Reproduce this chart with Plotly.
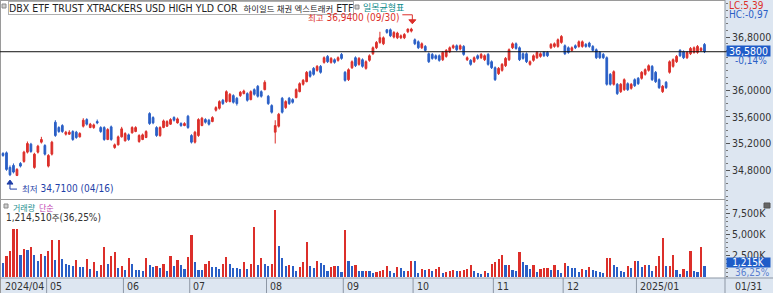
import plotly.graph_objects as go

W, H = 773, 293
FONT = "Liberation Sans Narrow, Arial Narrow, DejaVu Sans Condensed, Noto Sans CJK KR, sans-serif"

# ---------------- data ----------------
month_labels = ["2024/04", "05", "06", "07", "08", "09", "10", "11", "12", "2025/01"]
month_start_idx = [0, 13, 35, 54, 76, 98, 118, 141, 161, 182]
last_date_label = "01/31"
title_text = "DBX ETF TRUST XTRACKERS USD HIGH YLD COR"
title_kr = "하이일드 채권 엑스트래커"
indicator_label = "일목균형표"
max_date, min_date = "09/30", "04/16"
vol_pct_label = 36.25

opens = [35.05, 35.06, 34.84, 34.87, 34.72, 34.90, 34.93, 35.07, 35.19, 34.84,
         35.07, 35.22, 35.17, 34.86, 35.04, 35.52, 35.44, 35.47, 35.34, 35.34,
         35.38, 35.37, 35.30, 35.46, 35.56, 35.44, 35.44, 35.53, 35.44, 35.44,
         35.26, 35.45, 35.14, 35.18, 35.30, 35.24, 35.33, 35.36, 35.38, 35.23,
         35.26, 35.29, 35.65, 35.59, 35.44, 35.32, 35.44, 35.46, 35.49, 35.59,
         35.51, 35.50, 35.47, 35.61, 35.32, 35.22, 35.32, 35.47, 35.56, 35.55,
         35.53, 35.70, 35.73, 35.85, 35.83, 35.83, 35.92, 35.88, 35.92, 35.95,
         35.95, 35.86, 36.01, 36.06, 35.98, 36.01, 35.91, 35.77, 35.37, 35.46,
         35.88, 35.74, 35.88, 35.86, 35.89, 35.98, 36.09, 36.13, 36.28, 36.33,
         36.30, 36.36, 36.42, 36.51, 36.42, 36.46, 36.45, 36.54, 36.27, 36.16,
         36.34, 36.49, 36.39, 36.46, 36.33, 36.45, 36.55, 36.64, 36.72, 36.70,
         36.91, 36.91, 36.80, 36.79, 36.79, 36.79, 36.88, 36.89, 36.76, 36.73,
         36.64, 36.66, 36.55, 36.54, 36.52, 36.52, 36.46, 36.51, 36.58, 36.64,
         36.67, 36.62, 36.66, 36.46, 36.45, 36.43, 36.52, 36.49, 36.46, 36.54,
         36.43, 36.34, 36.25, 36.30, 36.37, 36.46, 36.64, 36.70, 36.64, 36.55,
         36.55, 36.39, 36.45, 36.49, 36.51, 36.57, 36.57, 36.64, 36.66, 36.66,
         36.72, 36.67, 36.64, 36.60, 36.67, 36.66, 36.66, 36.69, 36.71, 36.66,
         36.61, 36.57, 36.54, 36.49, 36.24, 36.09, 36.09, 35.98, 36.01, 36.10,
         36.03, 36.16, 36.18, 36.18, 36.24, 36.30, 36.36, 36.27, 36.16, 35.98,
         36.12, 36.27, 36.36, 36.43, 36.60, 36.58, 36.49, 36.55, 36.57, 36.57,
         36.60, 36.69]
highs = [35.07, 35.08, 34.87, 34.90, 34.83, 34.92, 35.09, 35.23, 35.21, 35.06,
         35.18, 35.30, 35.19, 35.04, 35.24, 35.55, 35.46, 35.49, 35.39, 35.40,
         35.40, 35.39, 35.37, 35.58, 35.58, 35.51, 35.50, 35.56, 35.46, 35.46,
         35.43, 35.47, 35.20, 35.32, 35.45, 35.37, 35.35, 35.46, 35.46, 35.34,
         35.35, 35.40, 35.67, 35.61, 35.46, 35.46, 35.56, 35.55, 35.58, 35.61,
         35.59, 35.52, 35.52, 35.63, 35.34, 35.39, 35.58, 35.60, 35.58, 35.57,
         35.61, 35.76, 35.85, 35.87, 36.00, 35.96, 35.94, 35.90, 35.99, 36.01,
         35.97, 36.00, 36.03, 36.08, 36.00, 36.15, 35.93, 35.79, 35.55, 35.66,
         35.90, 35.85, 35.90, 35.88, 36.03, 36.12, 36.17, 36.29, 36.30, 36.35,
         36.38, 36.38, 36.51, 36.53, 36.50, 36.48, 36.51, 36.56, 36.29, 36.33,
         36.45, 36.51, 36.50, 36.48, 36.45, 36.54, 36.66, 36.74, 36.88, 36.81,
         36.92, 36.93, 36.89, 36.88, 36.84, 36.86, 36.93, 36.94, 36.78, 36.75,
         36.72, 36.68, 36.57, 36.56, 36.54, 36.54, 36.59, 36.62, 36.66, 36.69,
         36.69, 36.69, 36.68, 36.51, 36.47, 36.51, 36.54, 36.56, 36.54, 36.56,
         36.45, 36.36, 36.35, 36.41, 36.50, 36.63, 36.72, 36.72, 36.66, 36.57,
         36.57, 36.45, 36.54, 36.59, 36.57, 36.59, 36.59, 36.71, 36.72, 36.78,
         36.83, 36.69, 36.66, 36.66, 36.69, 36.75, 36.75, 36.71, 36.73, 36.68,
         36.63, 36.59, 36.56, 36.51, 36.26, 36.30, 36.11, 36.11, 36.18, 36.12,
         36.11, 36.18, 36.20, 36.29, 36.33, 36.39, 36.38, 36.29, 36.18, 36.08,
         36.14, 36.45, 36.48, 36.53, 36.62, 36.60, 36.59, 36.65, 36.66, 36.68,
         36.65, 36.71]
lows = [35.00, 34.79, 34.71, 34.75, 34.71, 34.84, 34.91, 35.05, 35.06, 34.82,
        35.05, 35.20, 35.02, 34.84, 35.02, 35.30, 35.36, 35.36, 35.32, 35.33,
        35.24, 35.27, 35.29, 35.44, 35.47, 35.43, 35.42, 35.49, 35.36, 35.24,
        35.25, 35.24, 35.12, 35.17, 35.29, 35.23, 35.24, 35.35, 35.37, 35.21,
        35.25, 35.28, 35.48, 35.49, 35.30, 35.30, 35.43, 35.45, 35.48, 35.53,
        35.50, 35.45, 35.46, 35.42, 35.20, 35.20, 35.30, 35.46, 35.50, 35.47,
        35.52, 35.68, 35.71, 35.78, 35.81, 35.82, 35.80, 35.77, 35.90, 35.94,
        35.83, 35.85, 35.92, 35.89, 35.89, 36.00, 35.78, 35.65, 35.20, 35.44,
        35.65, 35.72, 35.78, 35.80, 35.88, 35.97, 36.07, 36.12, 36.19, 36.22,
        36.28, 36.25, 36.40, 36.41, 36.40, 36.40, 36.43, 36.46, 36.13, 36.14,
        36.32, 36.35, 36.37, 36.34, 36.31, 36.43, 36.53, 36.62, 36.70, 36.68,
        36.85, 36.80, 36.78, 36.77, 36.77, 36.77, 36.86, 36.87, 36.68, 36.62,
        36.62, 36.58, 36.41, 36.46, 36.46, 36.43, 36.44, 36.49, 36.56, 36.62,
        36.59, 36.60, 36.52, 36.44, 36.37, 36.41, 36.46, 36.47, 36.44, 36.37,
        36.32, 36.14, 36.23, 36.28, 36.35, 36.44, 36.62, 36.61, 36.44, 36.46,
        36.41, 36.37, 36.43, 36.47, 36.49, 36.50, 36.50, 36.62, 36.64, 36.64,
        36.70, 36.53, 36.55, 36.58, 36.62, 36.64, 36.64, 36.64, 36.64, 36.58,
        36.47, 36.47, 36.47, 36.07, 36.07, 36.07, 35.93, 35.96, 35.99, 35.99,
        36.01, 36.05, 36.08, 36.16, 36.22, 36.28, 36.14, 36.11, 36.02, 35.96,
        36.02, 36.25, 36.34, 36.41, 36.50, 36.47, 36.47, 36.53, 36.55, 36.55,
        36.58, 36.56]
closes = [35.02, 34.81, 34.73, 34.77, 34.81, 34.86, 35.07, 35.20, 35.08, 35.04,
          35.16, 35.26, 35.04, 35.02, 35.22, 35.32, 35.38, 35.38, 35.37, 35.37,
          35.26, 35.29, 35.35, 35.55, 35.49, 35.49, 35.48, 35.51, 35.38, 35.26,
          35.41, 35.26, 35.18, 35.30, 35.42, 35.35, 35.26, 35.44, 35.44, 35.32,
          35.33, 35.38, 35.50, 35.51, 35.32, 35.44, 35.54, 35.53, 35.56, 35.55,
          35.57, 35.47, 35.50, 35.44, 35.22, 35.37, 35.56, 35.58, 35.52, 35.49,
          35.59, 35.74, 35.83, 35.80, 35.98, 35.94, 35.82, 35.80, 35.97, 35.99,
          35.85, 35.98, 35.94, 35.91, 35.91, 36.12, 35.80, 35.67, 35.47, 35.64,
          35.67, 35.83, 35.80, 35.82, 36.01, 36.10, 36.15, 36.27, 36.21, 36.24,
          36.36, 36.27, 36.49, 36.43, 36.48, 36.42, 36.49, 36.48, 36.15, 36.31,
          36.43, 36.37, 36.48, 36.36, 36.43, 36.52, 36.64, 36.72, 36.79, 36.79,
          36.87, 36.82, 36.87, 36.86, 36.82, 36.84, 36.92, 36.92, 36.70, 36.64,
          36.70, 36.60, 36.43, 36.48, 36.48, 36.45, 36.57, 36.60, 36.64, 36.67,
          36.61, 36.67, 36.54, 36.49, 36.39, 36.49, 36.48, 36.54, 36.52, 36.39,
          36.34, 36.16, 36.33, 36.39, 36.48, 36.61, 36.70, 36.63, 36.46, 36.48,
          36.43, 36.43, 36.52, 36.57, 36.55, 36.52, 36.52, 36.69, 36.70, 36.76,
          36.81, 36.55, 36.57, 36.64, 36.64, 36.73, 36.73, 36.66, 36.66, 36.60,
          36.49, 36.49, 36.49, 36.09, 36.09, 36.28, 35.95, 36.09, 36.16, 36.01,
          36.09, 36.07, 36.10, 36.27, 36.31, 36.37, 36.16, 36.13, 36.04, 36.06,
          36.04, 36.43, 36.46, 36.51, 36.52, 36.49, 36.57, 36.63, 36.64, 36.66,
          36.63, 36.58]
# volume in thousand shares
volumes_k = [1627, 2420, 3014, 5672, 5712, 2539, 3292, 3213, 3530, 2618,
             1825, 2737, 2499, 3014, 4324, 1944, 4324, 2142, 1507, 1349,
             1230, 1944, 1111, 1100, 2142, 952, 1745, 635, 1349, 3491,
             1547, 2420, 2935, 1031, 1230, 833, 2221, 1507, 833, 820,
             714, 2221, 1428, 1111, 1230, 1031, 1547, 714, 2499, 1309,
             1944, 1428, 952, 2300, 4918, 1745, 833, 820, 1547, 1825,
             1111, 1100, 952, 1547, 2300, 1547, 1031, 1020, 913, 1706,
             952, 1547, 5910, 1349, 2221, 1507, 1230, 1507, 7894, 3610,
             2221, 1230, 1428, 1230, 714, 1111, 1745, 4086, 1309, 1031,
             1825, 1626, 1349, 714, 1111, 1309, 1230, 516, 5593, 1904,
             1309, 1349, 635, 625, 714, 635, 436, 516, 714, 833,
             1230, 714, 436, 1111, 1031, 635, 714, 1904, 1880, 436,
             952, 833, 913, 714, 952, 1111, 436, 555, 714, 720,
             635, 714, 833, 952, 1428, 714, 436, 317, 714, 436,
             1507, 1745, 2102, 2539, 1330, 1400, 833, 714, 2935, 1745,
             1428, 952, 1349, 555, 952, 960, 1031, 833, 1428, 833,
             360, 1626, 1309, 1031, 1020, 555, 952, 833, 1111, 833,
             714, 555, 436, 2221, 2230, 1349, 1111, 635, 555, 1309,
             1031, 1904, 1825, 1111, 1428, 1349, 714, 1230, 2499, 4600,
             1230, 1309, 2539, 833, 317, 952, 714, 3090, 714, 555,
             3491, 1214.51]
price_ticks = [34.8, 35.2, 35.6, 36.0, 36.8]
vol_ticks = [2500, 5000, 7500]

# ---------------- geometry helpers ----------------
def px(x):
    return x / W

def py(y):
    return 1 - y / H

n = len(closes)
xi = list(range(n))
PLOT_L, PLOT_R = 1, 725
BAR0_X, BAR_STEP = 3.0, 3.49
x_range = [(PLOT_L - BAR0_X) / BAR_STEP, (PLOT_R - BAR0_X) / BAR_STEP]

PRICE_TOP, PRICE_BOT = 1, 198
P36_Y, PX_PER_UNIT = 90.3, 66.5
price_range = [36 - (PRICE_BOT - P36_Y) / PX_PER_UNIT, 36 + (P36_Y - PRICE_TOP) / PX_PER_UNIT]

VOL_TOP, VOL_BOT, VOL0_Y, VOL_PX_PER_K = 200, 277, 276.5, 21 / 2500
vol_range = [-(VOL_BOT - VOL0_Y) / VOL_PX_PER_K, (VOL0_Y - VOL_TOP) / VOL_PX_PER_K]

RED, BLUE = "#dc2f2a", "#2a5fc6"
PANEL = "#dde6f1"
TXT = "#333333"

def comma(v, d):
    return f"{v:.{d}f}".replace(".", ",")

vol_colors = [BLUE] + [RED if volumes_k[i] > volumes_k[i - 1] else BLUE for i in range(1, n)]

fig = go.Figure()
fig.add_trace(go.Candlestick(
    x=xi, open=opens, high=highs, low=lows, close=closes,
    increasing=dict(line=dict(color=RED, width=1), fillcolor=RED),
    decreasing=dict(line=dict(color=BLUE, width=1), fillcolor=BLUE),
    whiskerwidth=0, yaxis="y", xaxis="x", showlegend=False, hoverinfo="skip"))
fig.add_trace(go.Bar(
    x=xi, y=volumes_k, marker=dict(color=vol_colors, line=dict(width=0)),
    width=0.62, yaxis="y2", xaxis="x", showlegend=False, hoverinfo="skip"))

shapes = []
# right panel background & bottom strip
shapes.append(dict(type="rect", xref="paper", yref="paper", x0=px(725), x1=1, y0=0, y1=1,
                   fillcolor=PANEL, line=dict(width=0), layer="below"))
shapes.append(dict(type="rect", xref="paper", yref="paper", x0=0, x1=1, y0=0, y1=py(278),
                   fillcolor=PANEL, line=dict(width=0), layer="below"))
# frames
shapes.append(dict(type="line", xref="paper", yref="paper", x0=0, x1=1, y0=py(278), y1=py(278),
                   line=dict(color="#8d97a5", width=1)))
shapes.append(dict(type="line", xref="paper", yref="paper", x0=px(725), x1=px(725), y0=0, y1=1,
                   line=dict(color="#8d97a5", width=1)))
shapes.append(dict(type="line", xref="paper", yref="paper", x0=0, x1=px(725), y0=py(199.5), y1=py(199.5),
                   line=dict(color="#9a9a9a", width=1)))
shapes.append(dict(type="line", xref="paper", yref="paper", x0=px(0.5), x1=px(0.5), y0=0, y1=1,
                   line=dict(color="#9a9a9a", width=1)))
shapes.append(dict(type="line", xref="paper", yref="paper", x0=0, x1=px(725), y0=py(0.5), y1=py(0.5),
                   line=dict(color="#9a9a9a", width=1)))
# current price line
shapes.append(dict(type="line", xref="paper", yref="y", x0=0, x1=px(727), y0=closes[-1], y1=closes[-1],
                   line=dict(color="#111111", width=1)))
# month separators in the date strip
for idx in month_start_idx[1:]:
    shapes.append(dict(type="line", xref="x", yref="paper", x0=idx - 0.5, x1=idx - 0.5,
                       y0=0, y1=py(278), line=dict(color="#8d97a5", width=1)))

# max / min arrows (anchored at the extreme candles)
i_max = max(range(n), key=lambda i: highs[i])
i_min = min(range(n), key=lambda i: lows[i])
shapes.append(dict(type="path", xref="x", yref="y", xsizemode="pixel", ysizemode="pixel",
                   xanchor=i_max, yanchor=highs[i_max], path="M -9,13 L 1,13 L 1,7",
                   line=dict(color=RED, width=1)))
shapes.append(dict(type="path", xref="x", yref="y", xsizemode="pixel", ysizemode="pixel",
                   xanchor=i_max, yanchor=highs[i_max], path="M -2.5,8 L 4.5,8 L 1,4 Z",
                   fillcolor=RED, line=dict(color=RED, width=1)))
shapes.append(dict(type="path", xref="x", yref="y", xsizemode="pixel", ysizemode="pixel",
                   xanchor=i_min, yanchor=lows[i_min], path="M 0,-8 L 0,-13 L 7,-13",
                   line=dict(color="#1f3fa8", width=1)))
shapes.append(dict(type="path", xref="x", yref="y", xsizemode="pixel", ysizemode="pixel",
                   xanchor=i_min, yanchor=lows[i_min], path="M -3,-8 L 3,-8 L 0,-4 Z",
                   fillcolor="#1f3fa8", line=dict(color="#1f3fa8", width=1)))
# small legend squares
for (x0, y0) in [(2, 4), (355, 5), (4, 204)]:
    shapes.append(dict(type="rect", xref="paper", yref="paper", x0=px(x0), x1=px(x0 + 4),
                       y0=py(y0 + 4), y1=py(y0), fillcolor="#cfcfcf", line=dict(color="#8a8a8a", width=1)))
shapes.append(dict(type="rect", xref="paper", yref="paper", x0=px(764), x1=px(770),
                   y0=py(208), y1=py(203), fillcolor="#666666", line=dict(color="#555555", width=1)))

ann = []
def A(text, x, y, color=TXT, size=10.5, xanchor="left", **kw):
    d = dict(text=text, x=px(x), y=py(y), xref="paper", yref="paper", showarrow=False,
             xanchor=xanchor, yanchor="middle", font=dict(family=FONT, size=size, color=color))
    d.update(kw)
    ann.append(d)

A(f"{title_text}  <span style='font-size:8.4px'>{title_kr}</span> ETF", 8, 7.5, color="#222222",
  bordercolor="#b0b0b0", borderwidth=1, borderpad=0, bgcolor="rgba(255,255,255,0)")
A(f"<span style='font-size:9px'>{indicator_label}</span>", 361, 7.5, color="#0a8a8a")

max_txt = f"<span style='font-size:8.5px'>최고</span> {comma(highs[i_max], 4)} ({max_date})"
min_txt = f"<span style='font-size:8.5px'>최저</span> {comma(lows[i_min], 4)} ({min_date})"
A(max_txt, 402, 17.5, color=RED, xanchor="right", size=10)
A(min_txt, 20, 188.5, color="#1f3fa8", size=10)

lc = (closes[-1] - lows[i_min]) / lows[i_min] * 100
hc = (closes[-1] - highs[i_max]) / highs[i_max] * 100
A(f"LC:{comma(lc, 2)}", 727, 5.0, color=RED, size=10)
A(f"HC:{comma(hc, 2)}", 727, 14.5, color="#2a5fc6", size=10)

chg = (closes[-1] / closes[-2] - 1) * 100
A(comma(closes[-1], 4), 748.5, 50.5, color="white", xanchor="center",
  bgcolor="#1f5cc8", width=43, height=10, borderpad=0)
A(f"{comma(chg, 2)}%", 733, 60.5, color="#2a5fc6", size=10)

A("<span style='font-size:8px'>거래량</span>", 11, 207.5, color="#1a9090")
A("<span style='font-size:8px'>단순</span>", 37, 207.5, color="#c040b0")
vol_last = volumes_k[-1] * 1000
A(f"{vol_last:,.0f}<span style='font-size:8.5px'>주</span>({comma(vol_pct_label, 2)}%)", 4, 217.5, size=10)
A(f"{round(volumes_k[-1]):,}K", 748.5, 262.5, color="white", xanchor="center",
  bgcolor="#1f5cc8", width=43, height=9, borderpad=0, size=10)
A(f"{comma(vol_pct_label, 2)}%", 733, 272, color="#5a7fd0", size=10)

# date strip labels
for lab, idx in zip(month_labels, month_start_idx):
    ann.append(dict(text=lab, x=idx - 0.5, y=py(285.5), xref="x", yref="paper", showarrow=False,
                    xanchor="left", yanchor="middle", xshift=1.5,
                    font=dict(family=FONT, size=10.5, color=TXT)))
A(last_date_label, 733, 285.5)

fig.update_layout(
    width=W, height=H, margin=dict(l=0, r=0, t=0, b=0),
    paper_bgcolor="white", plot_bgcolor="white",
    shapes=shapes, annotations=ann, bargap=0,
    xaxis=dict(domain=[px(PLOT_L), px(PLOT_R)], range=x_range, anchor="y2",
               showgrid=False, zeroline=False, showticklabels=False, ticks="",
               showline=False, rangeslider=dict(visible=False), fixedrange=True),
    yaxis=dict(domain=[py(PRICE_BOT), py(PRICE_TOP)], range=price_range, side="right",
               anchor="x", showgrid=False, zeroline=False, showline=False,
               tickvals=price_ticks, ticktext=[comma(v, 4) for v in price_ticks],
               ticks="outside", ticklen=4, tickcolor="#555555",
               minor=dict(ticks="outside", ticklen=2, dtick=0.1, tickcolor="#777777"),
               tickfont=dict(family=FONT, size=10.5, color=TXT), fixedrange=True),
    yaxis2=dict(domain=[py(VOL_BOT), py(VOL_TOP)], range=vol_range, side="right",
                anchor="x", showgrid=False, zeroline=False, showline=False,
                tickvals=vol_ticks, ticktext=[f"{v:,}K" for v in vol_ticks],
                ticks="outside", ticklen=4, tickcolor="#555555",
                minor=dict(ticks="outside", ticklen=2, dtick=500, tickcolor="#777777"),
                tickfont=dict(family=FONT, size=10.5, color=TXT), fixedrange=True),
)

fig.write_html("out.html")
